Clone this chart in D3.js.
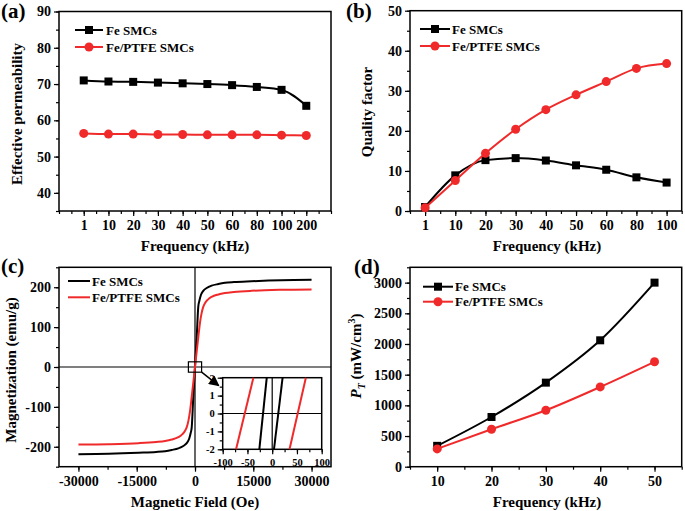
<!DOCTYPE html>
<html>
<head>
<meta charset="utf-8">
<script src="https://cdn.jsdelivr.net/npm/d3@7"></script>
<style>
body { margin: 0; background: #fff; }
svg text { font-family: "Liberation Serif", "Times New Roman", serif; font-weight: bold; fill: #000; }
.axis path.domain { display: none; }
.axis line { stroke: #000; stroke-width: 1.2; }
</style>
</head>
<body>
<svg id="chart" width="685" height="511"></svg>
<script>
// (a) effective permeability
var freqA = ["1", "10", "20", "30", "40", "50", "60", "80", "100", "200"];
var permFe = [71.0, 70.7, 70.6, 70.4, 70.2, 70.0, 69.7, 69.2, 68.4, 64.0];
var permPtfe = [56.4, 56.2, 56.2, 56.1, 56.1, 56.0, 56.0, 56.0, 55.9, 55.8];

// (b) quality factor
var freqB = ["1", "10", "20", "30", "40", "50", "60", "80", "100"];
var qFe = [1.0, 8.9, 12.7, 13.2, 12.6, 11.4, 10.3, 8.4, 7.1];
var qPtfe = [0.8, 7.6, 14.4, 20.4, 25.3, 29.0, 32.3, 35.6, 36.8];

// (c) hysteresis loops
var fieldFe = [-30000, -22200, -14500, -10000, -7700, -6000, -4280, -3000, -2130, -1500, -1100, -850, -440, -200, 0,
    200, 440, 850, 1100, 1500, 2130, 3000, 4280, 6000, 7700, 10000, 14500, 22200, 30000];
var magFe = [-218.5, -217.5, -215, -213, -211, -208, -204, -198, -191, -180, -165, -152, -75, -35, 0,
    35, 75, 152, 165, 180, 191, 198, 204, 208, 211, 213, 215, 217.5, 218.5];
var fieldPtfe = [-30000, -22200, -14500, -10000, -7700, -6000, -4280, -3300, -2560, -2100, -1700, -1300, -850, -300, 0,
    300, 850, 1300, 1700, 2100, 2560, 3300, 4280, 6000, 7700, 10000, 14500, 22200, 30000];
var magPtfe = [-194.5, -193.5, -191, -188, -185.5, -182, -176, -169, -160, -150, -135, -112, -75, -27, 0,
    27, 75, 112, 135, 150, 160, 169, 176, 182, 185.5, 188, 191, 193.5, 194.5];
// inset: field where each branch meets M = -2 and M = +2
var insetM = [-2, 2];
var insetFe = [[-26, -11], [3.6, 21]];
var insetPtfe = [[-73, -38], [35, 68]];

// (d) total core loss
var freqD = [10, 20, 30, 40, 50];
var lossFe = [340, 810, 1370, 2060, 3000];
var lossPtfe = [290, 610, 920, 1300, 1710];

var seriesNames = ["Fe SMCs", "Fe/PTFE SMCs"];

var RED = "#f02a2a", BLACK = "#000";
var svg = d3.select("#chart");
svg.append("rect").attr("width", 685).attr("height", 511).attr("fill", "#fff");

function axes(xScale, yScale, xMajor, xMinor, xFmt, yMajor, yMinor, yFmt, fs) {
    var y0 = yScale.range()[0], x0 = xScale.range()[0];
    fs = fs || 14;
    var gx = svg.append("g").attr("class", "axis").attr("transform", "translate(0," + y0 + ")");
    gx.append("g").call(d3.axisBottom(xScale).tickValues(xMinor).tickSize(3).tickSizeOuter(0).tickFormat(""));
    gx.append("g").call(d3.axisBottom(xScale).tickValues(xMajor).tickSize(5).tickSizeOuter(0).tickPadding(4).tickFormat(xFmt));
    var gy = svg.append("g").attr("class", "axis").attr("transform", "translate(" + x0 + ",0)");
    gy.append("g").call(d3.axisLeft(yScale).tickValues(yMinor).tickSize(3).tickSizeOuter(0).tickFormat(""));
    gy.append("g").call(d3.axisLeft(yScale).tickValues(yMajor).tickSize(5).tickSizeOuter(0).tickPadding(3).tickFormat(yFmt));
    gx.selectAll("text").attr("font-size", fs).attr("font-family", null);
    gy.selectAll("text").attr("font-size", fs).attr("font-family", null);
    svg.append("rect")
        .attr("x", x0).attr("y", yScale.range()[1])
        .attr("width", xScale.range()[1] - x0).attr("height", y0 - yScale.range()[1])
        .attr("fill", "none").attr("stroke", BLACK).attr("stroke-width", 1.5);
}

function series(xs, ys, x, y, color, marker, curve) {
    var pts = xs.map(function (d, i) { return [x(d), y(ys[i])]; });
    svg.append("path")
        .attr("d", d3.line().curve(curve || d3.curveMonotoneX)(pts))
        .attr("fill", "none").attr("stroke", color).attr("stroke-width", 2);
    if (marker) drawMarkers(pts, color, marker);
}

function drawMarkers(pts, color, marker) {
    pts.forEach(function (p) {
        if (marker === "square") {
            svg.append("rect").attr("x", p[0] - 4).attr("y", p[1] - 4)
                .attr("width", 8).attr("height", 8).attr("fill", color);
        } else {
            svg.append("circle").attr("cx", p[0]).attr("cy", p[1]).attr("r", 4.5).attr("fill", color);
        }
    });
}

function legend(x0, x1, tx, ys, markers) {
    [BLACK, RED].forEach(function (c, i) {
        svg.append("line").attr("x1", x0).attr("x2", x1).attr("y1", ys[i]).attr("y2", ys[i])
            .attr("stroke", c).attr("stroke-width", 2);
        if (markers) drawMarkers([[(x0 + x1) / 2, ys[i]]], c, markers[i]);
        svg.append("text").attr("x", tx).attr("y", ys[i] + 4.5).attr("font-size", 13).text(seriesNames[i]);
    });
}

function titles(label, lx, ly, xTitle, xx, xy, yTitle, yx, yy) {
    svg.append("text").attr("x", lx).attr("y", ly).attr("font-size", 21).text(label);
    svg.append("text").attr("x", xx).attr("y", xy).attr("font-size", 15)
        .attr("text-anchor", "middle").text(xTitle);
    if (yTitle) {
        svg.append("text").attr("font-size", 15).attr("text-anchor", "middle")
            .attr("transform", "translate(" + yx + "," + yy + ") rotate(-90)").text(yTitle);
    }
}

// ---------- (a)
var xA = d3.scaleLinear().domain([-1, 10]).range([59, 331]);
var yA = d3.scaleLinear().domain([35, 90]).range([211, 11.5]);
axes(xA, yA, d3.range(0, 10), d3.range(-1, 10.01, 0.5), function (i) { return freqA[i]; },
    d3.range(40, 91, 10), d3.range(35, 91, 5), String);
series(d3.range(10), permFe, xA, yA, BLACK, "square");
series(d3.range(10), permPtfe, xA, yA, RED, "circle");
legend(75, 103, 106, [30, 47], ["square", "circle"]);
titles("(a)", 1, 18, "Frequency (kHz)", 195, 251, "Effective permeability", 22, 114);

// ---------- (b)
var xB = d3.scaleLinear().domain([-0.5, 8.5]).range([410, 681.7]);
var yB = d3.scaleLinear().domain([0, 50]).range([211, 10.7]);
axes(xB, yB, d3.range(0, 9), d3.range(-0.5, 8.51, 0.5), function (i) { return freqB[i]; },
    d3.range(0, 51, 10), d3.range(0, 51, 5), String);
series(d3.range(9), qFe, xB, yB, BLACK, "square");
series(d3.range(9), qPtfe, xB, yB, RED, "circle");
legend(420, 450, 452, [29, 46], ["square", "circle"]);
titles("(b)", 346, 18, "Frequency (kHz)", 547, 251, "Quality factor", 372, 112);

// ---------- (c)
var xC = d3.scaleLinear().domain([-35000, 35000]).range([59, 331]);
var yC = d3.scaleLinear().domain([-250, 250]).range([466.7, 267.3]);
axes(xC, yC, d3.range(-30000, 30001, 15000), d3.range(-30000, 30001, 7500), String,
    d3.range(-200, 201, 100), d3.range(-250, 251, 50), String);
svg.append("line").attr("x1", xC(0)).attr("x2", xC(0)).attr("y1", yC(250)).attr("y2", yC(-250))
    .attr("stroke", BLACK).attr("stroke-width", 1.2);
svg.append("line").attr("x1", xC(-35000)).attr("x2", xC(35000)).attr("y1", yC(0)).attr("y2", yC(0))
    .attr("stroke", BLACK).attr("stroke-width", 1.2);
series(fieldFe, magFe, xC, yC, BLACK, null);
series(fieldPtfe, magPtfe, xC, yC, RED, null);
legend(68, 90, 92, [281, 297.3], null);
titles("(c)", 1, 273, "Magnetic Field (Oe)", 195, 507, "Magnetization (emu/g)", 16, 370);

// zoom box and arrow
svg.append("rect").attr("x", xC(-1700)).attr("y", yC(13))
    .attr("width", xC(1700) - xC(-1700)).attr("height", yC(-13) - yC(13))
    .attr("fill", "none").attr("stroke", BLACK).attr("stroke-width", 1.2);
svg.append("defs").append("marker").attr("id", "arrow")
    .attr("viewBox", "0 0 10 10").attr("refX", 9).attr("refY", 5)
    .attr("markerWidth", 7).attr("markerHeight", 7).attr("orient", "auto")
    .append("path").attr("d", "M0,0L10,5L0,10z").attr("fill", BLACK);

// inset
var xI = d3.scaleLinear().domain([-100, 100]).range([222.7, 321.7]);
var yI = d3.scaleLinear().domain([-2, 2]).range([449.3, 377.7]);
svg.append("line").attr("x1", xC(1700)).attr("y1", yC(-13)).attr("x2", xI(-100) - 4).attr("y2", yI(2) + 8)
    .attr("stroke", BLACK).attr("stroke-width", 1.5).attr("marker-end", "url(#arrow)");
svg.append("rect").attr("x", xI(-100)).attr("y", yI(2)).attr("width", xI(100) - xI(-100))
    .attr("height", yI(-2) - yI(2)).attr("fill", "#fff");
axes(xI, yI, d3.range(-100, 101, 50), d3.range(-100, 101, 25), String,
    d3.range(-2, 2.1, 1), d3.range(-2, 2.1, 0.5), String, 10.5);
svg.append("line").attr("x1", xI(0)).attr("x2", xI(0)).attr("y1", yI(2)).attr("y2", yI(-2))
    .attr("stroke", BLACK).attr("stroke-width", 1.2);
svg.append("line").attr("x1", xI(-100)).attr("x2", xI(100)).attr("y1", yI(0)).attr("y2", yI(0))
    .attr("stroke", BLACK).attr("stroke-width", 1.2);
insetFe.forEach(function (h) { series(h, insetM, xI, yI, BLACK, null, d3.curveLinear); });
insetPtfe.forEach(function (h) { series(h, insetM, xI, yI, RED, null, d3.curveLinear); });

// ---------- (d)
var xD = d3.scaleLinear().domain([5, 55]).range([410, 681.7]);
var yD = d3.scaleLinear().domain([0, 3250]).range([466.7, 267.3]);
axes(xD, yD, freqD, d3.range(5, 55.1, 5), String,
    d3.range(0, 3001, 500), d3.range(0, 3251, 250), String);
series(freqD, lossFe, xD, yD, BLACK, "square");
series(freqD, lossPtfe, xD, yD, RED, "circle");
legend(423, 453, 455, [286.7, 301.7], ["square", "circle"]);
titles("(d)", 354, 274, "Frequency (kHz)", 547, 507, null);

var yt = svg.append("text").attr("font-size", 15).attr("text-anchor", "middle")
    .attr("transform", "translate(361,356) rotate(-90)");
yt.append("tspan").attr("font-style", "italic").text("P");
yt.append("tspan").attr("font-style", "italic").attr("font-size", 10).attr("dy", 4).text("T");
yt.append("tspan").attr("dy", -4).text(" (mW/cm");
yt.append("tspan").attr("font-size", 10).attr("dy", -6).text("3");
yt.append("tspan").attr("dy", 6).text(")");
</script>
</body>
</html>
